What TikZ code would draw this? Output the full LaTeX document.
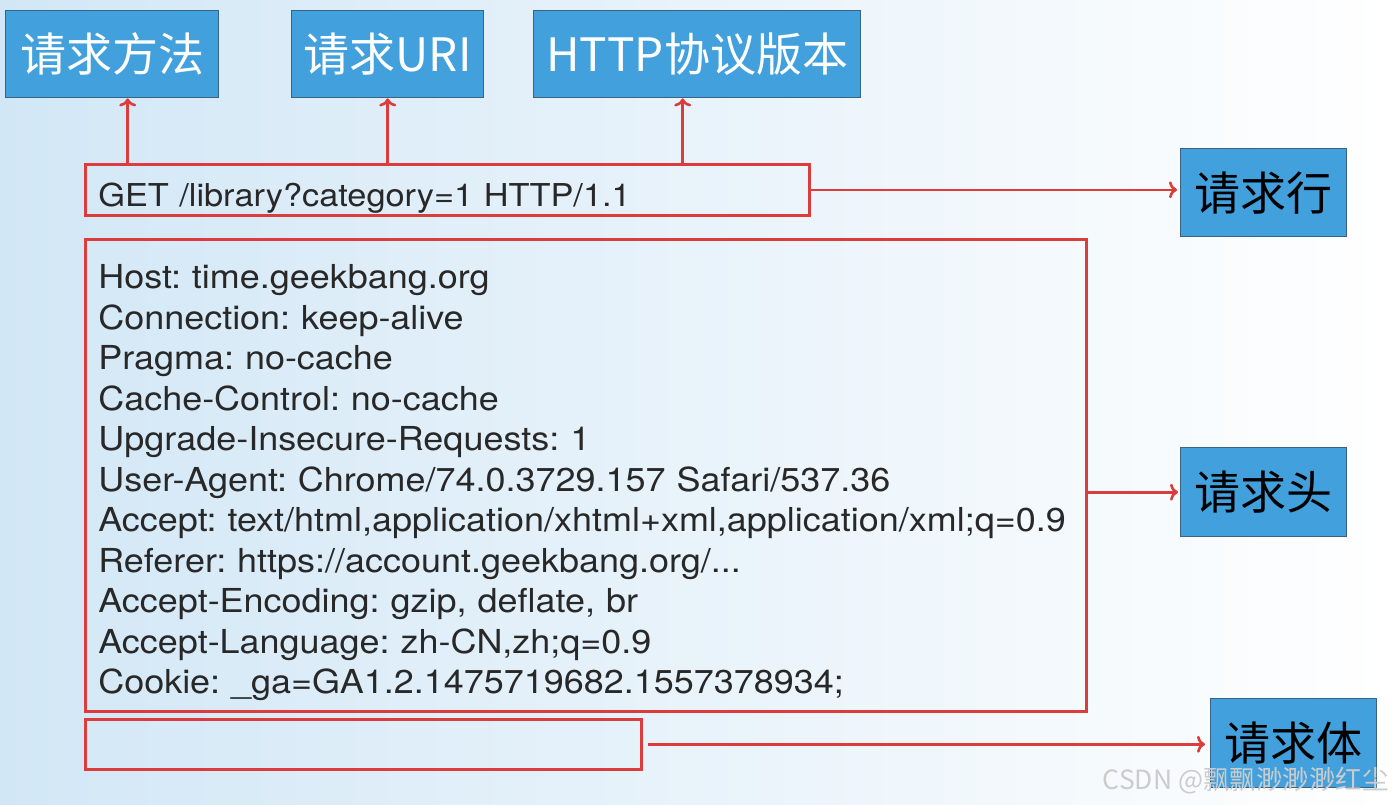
\documentclass[tikz,border=0pt]{standalone}
\usepackage{fontspec}
\setmainfont{TeX Gyre Heros}[FakeStretch=1.09]
\newfontfamily\cjk{Noto Sans CJK SC}
\usetikzlibrary{positioning,arrows.meta}
\definecolor{boxblue}{RGB}{66,160,221}
\definecolor{boxedge}{RGB}{58,98,132}
\definecolor{linered}{RGB}{220,60,60}
\definecolor{bgblue}{RGB}{210,231,246}
\definecolor{txtgray}{RGB}{40,40,40}
\frenchspacing
\begin{document}
\begin{tikzpicture}[
        x=1pt, y=-1pt,
        bluebox/.style={draw=boxedge, line width=1.4pt, fill=boxblue, inner sep=0pt,
            anchor=north west, font=\cjk\fontsize{46}{50}\selectfont},
        redbox/.style={draw=linered, line width=2.6pt, inner sep=0pt, anchor=north west,
            align=left, text=txtgray},
        redarrow/.style={draw=linered, line width=2.6pt, -{To[length=8pt,width=17pt]}}
    ]
    \useasboundingbox (0,0) rectangle (1394,804);
    \shade [left color=bgblue, right color=white] (0,0) rectangle (1394,804);

    % parts of the request line
    \node [bluebox, text=white, minimum width=213pt, minimum height=87pt] (method) at (5,10) {请求方法};
    \node [bluebox, text=white, minimum width=192pt, minimum height=87pt] (uri) at (291,10) {请求URI};
    \node [bluebox, text=white, minimum width=327pt, minimum height=87pt] (version) at (533,10) {HTTP协议版本};

    % the message itself
    \node [redbox, text width=698pt, inner xsep=13pt, minimum height=51pt,
        font=\fontsize{31.5}{40.5}\selectfont] (line) at (84,163)
        {\rule{0pt}{40pt}GET /library?category=1 HTTP/1.1};
    \node [redbox, text width=975pt, inner xsep=13pt, minimum height=472pt,
        font=\fontsize{33}{40.5}\selectfont] (hdr) at (84,238)
        {\rule{0pt}{39pt}Host: time.geekbang.org\\
        Connection: keep-alive\\
        Pragma: no-cache\\
        Cache-Control: no-cache\\
        Upgrade-Insecure-Requests: 1\\
        User-Agent: Chrome/74.0.3729.157 Safari/537.36\\
        Accept: text/html,application/xhtml+xml,application/xml;q=0.9\\
        Referer: https://account.geekbang.org/...\\
        Accept-Encoding: gzip, deflate, br\\
        Accept-Language: zh-CN,zh;q=0.9\\
        Cookie: \_ga=GA1.2.1475719682.1557378934;};
    \node [redbox, minimum width=556pt, minimum height=50pt] (body) at (84,718) {};

    % names of the three parts
    \node [bluebox, text=black, minimum width=166pt, minimum height=88pt] (reqline) at (1180,148) {请求行};
    \node [bluebox, text=black, minimum width=166pt, minimum height=89pt] (reqhead) at (1180,447) {请求头};
    \node [bluebox, text=black, minimum width=166pt, minimum height=89pt] (reqbody) at (1210,698) {请求体};

    \draw [redarrow] ([xshift=15.5pt]method.south |- line.north) -- ([xshift=15.5pt]method.south);
    \draw [redarrow] (uri.south |- line.north) -- (uri.south);
    \draw [redarrow] ([xshift=-14.5pt]version.south |- line.north) -- ([xshift=-14.5pt]version.south);

    \draw [redarrow, shorten >=3pt] (line.east) -- (line.east -| reqline.west);
    \draw [redarrow, shorten >=2pt] (reqhead.west -| hdr.east) -- (reqhead.west);
    \draw [redarrow, shorten <=5pt, shorten >=5pt] (body.east) -- (body.east -| reqbody.west);

    \node [anchor=base east, inner sep=0pt, text=black!20, font=\cjk\fontsize{26.5}{27}\selectfont] (mark)
        at (1389,789) {CSDN @飘飘渺渺渺红尘};
\end{tikzpicture}
\end{document}
